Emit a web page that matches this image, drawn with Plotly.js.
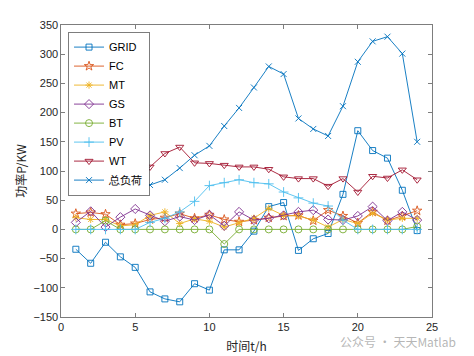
<!DOCTYPE html>
<html>
<head>
<meta charset="utf-8">
<script src="https://cdn.plot.ly/plotly-3.0.1.min.js"></script>
<style>html,body{margin:0;padding:0;background:#fff;}#chart{width:474px;height:356px;}</style>
</head>
<body>
<div id="chart"></div>
<script>
const hours = [1,2,3,4,5,6,7,8,9,10,11,12,13,14,15,16,17,18,19,20,21,22,23,24];
const GRID = [-34,-58,-22,-47,-65,-107,-119,-124,-93,-104,-35,-35,-3,39,46,-36,-16,-7,60,169,135,122,67,-2];
const FC   = [27,29,26,8,10,17,20,27,19,25,17,13,16,20,23,24,15,33,23,11,30,15,23,32];
const MT   = [20,17,17,6,8,24,30,10,18,14,4,11,19,36,24,23,16,4,17,10,28,16,19,19];
const GS   = [12,31,4,21,35,24,14,22,16,25,6,30,16,19,24,30,33,17,16,23,39,15,30,16];
const BT   = [0,0,15,0,0,0,0,0,0,0,-25,0,0,0,0,0,0,0,0,0,0,0,0,5];
const PV   = [0,0,0,0,0,12,19,30,48,75,80,85,80,78,64,54,45,40,16,0,0,0,0,0];
const WT   = [81,79,68,90,96,107,130,141,114,113,110,107,107,103,90,87,87,74,87,64,91,88,102,85];
const LOAD = [96,94,90,85,80,76,85,105,127,143,177,208,243,279,266,190,172,160,211,287,322,330,301,150];
const names = ['GRID','FC','MT','GS','BT','PV','WT','总负荷'];
const xTicks = [0,5,10,15,20,25];
const yTicks = [-150,-100,-50,0,50,100,150,200,250,300,350];

const series = [GRID,FC,MT,GS,BT,PV,WT,LOAD];
const colors = ['#0072BD','#D95319','#EDB120','#7E2F8E','#77AC30','#4DBEEE','#A2142F','#0072BD'];
const symbols = ['square-open','star-open','asterisk-open','diamond-open','circle-open','cross-thin-open','triangle-down-open','x-thin-open'];
const sizes = [6,7,6,7,7,7,7,6];

const traces = series.map((s,i)=>({
  x: hours, y: s, name: names[i], type:'scatter', mode:'lines+markers',
  line:{color:colors[i], width:0.9},
  marker:{symbol:symbols[i], size:sizes[i], color:colors[i], line:{color:colors[i], width:0.9}}
}));

const axisCommon = {
  showline:true, mirror:'ticks', linecolor:'#262626', linewidth:0.6,
  ticks:'inside', ticklen:4, tickcolor:'#262626', tickwidth:0.6,
  showgrid:false, zeroline:false,
  tickfont:{family:'Liberation Sans, Arial, sans-serif', size:11, color:'#262626'}
};

const layout = {
  width:474, height:356,
  margin:{l:61, r:42, t:25, b:39},
  paper_bgcolor:'#fff', plot_bgcolor:'#fff',
  showlegend:true,
  legend:{x:0.02, y:0.976, xanchor:'left', yanchor:'top',
    bgcolor:'#fff', bordercolor:'#262626', borderwidth:0.6,
    font:{family:'Liberation Sans, Arial, sans-serif', size:11, color:'#000'},
    tracegroupgap:0, itemwidth:30},
  xaxis: Object.assign({}, axisCommon, {range:[0,25], tickvals:xTicks,
    title:{text:'时间t/h', font:{family:'Noto Sans CJK SC, sans-serif', size:12, color:'#262626'}, standoff:10}}),
  yaxis: Object.assign({}, axisCommon, {range:[-150,350], tickvals:yTicks,
    title:{text:'功率P/KW', font:{family:'Noto Sans CJK SC, sans-serif', size:12, color:'#262626'}, standoff:4}}),
  annotations:[{xref:'paper', yref:'paper', x:1.07, y:-0.085, xanchor:'right', yanchor:'middle',
    text:'公众号 · 天天Matlab', showarrow:false,
    font:{family:'Noto Sans CJK SC, sans-serif', size:12, color:'rgba(150,150,150,0.7)'}}]
};

Plotly.newPlot('chart', traces, layout, {displayModeBar:false, staticPlot:true});
</script>
</body>
</html>
